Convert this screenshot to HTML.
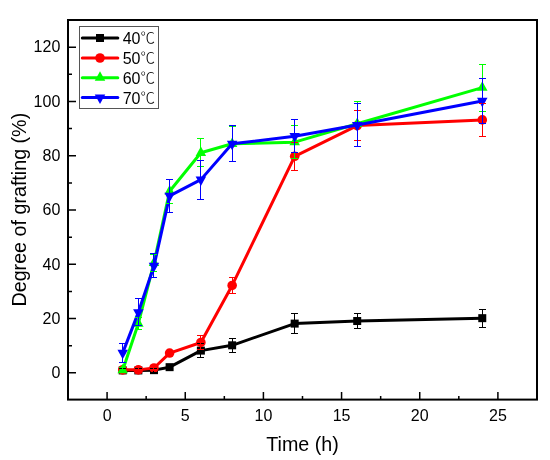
<!DOCTYPE html>
<html><head><meta charset="utf-8"><style>
html,body{margin:0;padding:0;background:#fff;}
svg{display:block;}
text{font-family:"Liberation Sans",Arial,sans-serif;fill:#000;}
.tk{font-size:16px;}
.lg{font-size:16px;}
.deg{font-family:"Liberation Sans","Noto Sans CJK SC",sans-serif;font-weight:300;font-size:14.5px;}
.ti{font-size:19.7px;}
</style></head><body>
<svg width="550" height="460" viewBox="0 0 550 460">
<rect width="550" height="460" fill="#fff"/>
<path d="M107.08,400V392M185.25,400V392M263.41,400V392M341.57,400V392M419.74,400V392M497.90,400V392M146.16,400V396M224.33,400V396M302.49,400V396M380.66,400V396M458.82,400V396M68,372.86H76M68,318.58H76M68,264.30H76M68,210.02H76M68,155.74H76M68,101.46H76M68,47.18H76M68,345.72H72M68,291.44H72M68,237.16H72M68,182.88H72M68,128.60H72M68,74.32H72" stroke="#000" stroke-width="1.5" fill="none"/>
<polyline points="122.71,370.42 138.35,370.42 153.98,370.15 169.61,367.16 200.88,350.61 232.14,345.31 294.68,323.60 357.21,321.02 482.27,318.17" fill="none" stroke="#000000" stroke-width="3.0" stroke-linejoin="round" stroke-linecap="round"/>
<rect x="118.71" y="366.42" width="8.0" height="8.0" fill="#000000"/>
<rect x="134.35" y="366.42" width="8.0" height="8.0" fill="#000000"/>
<rect x="149.98" y="366.15" width="8.0" height="8.0" fill="#000000"/>
<rect x="165.61" y="363.16" width="8.0" height="8.0" fill="#000000"/>
<rect x="196.88" y="346.61" width="8.0" height="8.0" fill="#000000"/>
<rect x="228.14" y="341.31" width="8.0" height="8.0" fill="#000000"/>
<rect x="290.68" y="319.60" width="8.0" height="8.0" fill="#000000"/>
<rect x="353.21" y="317.02" width="8.0" height="8.0" fill="#000000"/>
<rect x="478.27" y="314.17" width="8.0" height="8.0" fill="#000000"/>
<polyline points="122.71,369.87 138.35,369.87 153.98,367.97 169.61,353.05 200.88,342.46 232.14,285.47 294.68,156.28 357.21,125.61 482.27,119.92" fill="none" stroke="#ff0000" stroke-width="3.0" stroke-linejoin="round" stroke-linecap="round"/>
<circle cx="122.71" cy="369.87" r="4.8" fill="#ff0000"/>
<circle cx="138.35" cy="369.87" r="4.8" fill="#ff0000"/>
<circle cx="153.98" cy="367.97" r="4.8" fill="#ff0000"/>
<circle cx="169.61" cy="353.05" r="4.8" fill="#ff0000"/>
<circle cx="200.88" cy="342.46" r="4.8" fill="#ff0000"/>
<circle cx="232.14" cy="285.47" r="4.8" fill="#ff0000"/>
<circle cx="294.68" cy="156.28" r="4.8" fill="#ff0000"/>
<circle cx="357.21" cy="125.61" r="4.8" fill="#ff0000"/>
<circle cx="482.27" cy="119.92" r="4.8" fill="#ff0000"/>
<polyline points="122.71,370.15 138.35,323.47 153.98,262.94 169.61,191.29 200.88,152.75 232.14,143.80 294.68,142.17 357.21,123.71 482.27,87.62" fill="none" stroke="#00ff00" stroke-width="3.0" stroke-linejoin="round" stroke-linecap="round"/>
<path d="M122.71,363.81L127.96,373.31L117.46,373.31Z" fill="#00ff00"/>
<path d="M138.35,317.13L143.60,326.63L133.10,326.63Z" fill="#00ff00"/>
<path d="M153.98,256.61L159.23,266.11L148.73,266.11Z" fill="#00ff00"/>
<path d="M169.61,184.96L174.86,194.46L164.36,194.46Z" fill="#00ff00"/>
<path d="M200.88,146.42L206.13,155.92L195.63,155.92Z" fill="#00ff00"/>
<path d="M232.14,137.47L237.39,146.97L226.89,146.97Z" fill="#00ff00"/>
<path d="M294.68,135.84L299.93,145.34L289.43,145.34Z" fill="#00ff00"/>
<path d="M357.21,117.38L362.46,126.88L351.96,126.88Z" fill="#00ff00"/>
<path d="M482.27,81.29L487.52,90.79L477.02,90.79Z" fill="#00ff00"/>
<polyline points="122.71,352.91 138.35,312.34 153.98,265.93 169.61,195.91 200.88,179.62 232.14,143.80 294.68,136.20 357.21,125.07 482.27,100.92" fill="none" stroke="#0000ff" stroke-width="3.0" stroke-linejoin="round" stroke-linecap="round"/>
<path d="M122.71,359.25L127.96,349.75L117.46,349.75Z" fill="#0000ff"/>
<path d="M138.35,318.67L143.60,309.17L133.10,309.17Z" fill="#0000ff"/>
<path d="M153.98,272.26L159.23,262.76L148.73,262.76Z" fill="#0000ff"/>
<path d="M169.61,202.24L174.86,192.74L164.36,192.74Z" fill="#0000ff"/>
<path d="M200.88,185.96L206.13,176.46L195.63,176.46Z" fill="#0000ff"/>
<path d="M232.14,150.13L237.39,140.63L226.89,140.63Z" fill="#0000ff"/>
<path d="M294.68,142.53L299.93,133.03L289.43,133.03Z" fill="#0000ff"/>
<path d="M357.21,131.41L362.46,121.91L351.96,121.91Z" fill="#0000ff"/>
<path d="M482.27,107.25L487.52,97.75L477.02,97.75Z" fill="#0000ff"/>
<path d="M122.50,368.50V372.50M119.00,368.50h7.0M119.00,372.50h7.0M138.50,368.50V372.50M135.00,368.50h7.0M135.00,372.50h7.0M153.50,368.50V372.50M150.00,368.50h7.0M150.00,372.50h7.0M169.50,365.50V368.50M166.00,365.50h7.0M166.00,368.50h7.0M200.50,343.50V357.50M197.00,343.50h7.0M197.00,357.50h7.0M232.50,338.50V352.50M229.00,338.50h7.0M229.00,352.50h7.0M294.50,313.50V333.50M291.00,313.50h7.0M291.00,333.50h7.0M357.50,313.50V328.50M354.00,313.50h7.0M354.00,328.50h7.0M482.50,309.50V327.50M479.00,309.50h7.0M479.00,327.50h7.0" stroke="#000000" stroke-width="1" fill="none"/>
<path d="M122.50,367.50V372.50M119.00,367.50h7.0M119.00,372.50h7.0M138.50,367.50V372.50M135.00,367.50h7.0M135.00,372.50h7.0M153.50,365.50V370.50M150.00,365.50h7.0M150.00,370.50h7.0M169.50,350.50V355.50M166.00,350.50h7.0M166.00,355.50h7.0M200.50,335.50V349.50M197.00,335.50h7.0M197.00,349.50h7.0M232.50,277.50V293.50M229.00,277.50h7.0M229.00,293.50h7.0M294.50,142.50V170.50M291.00,142.50h7.0M291.00,170.50h7.0M357.50,110.50V140.50M354.00,110.50h7.0M354.00,140.50h7.0M482.50,103.50V136.50M479.00,103.50h7.0M479.00,136.50h7.0" stroke="#ff0000" stroke-width="1" fill="none"/>
<path d="M122.50,367.50V372.50M119.00,367.50h7.0M119.00,372.50h7.0M138.50,317.50V329.50M135.00,317.50h7.0M135.00,329.50h7.0M153.50,254.50V271.50M150.00,254.50h7.0M150.00,271.50h7.0M169.50,179.50V203.50M166.00,179.50h7.0M166.00,203.50h7.0M200.50,138.50V166.50M197.00,138.50h7.0M197.00,166.50h7.0M232.50,126.50V161.50M229.00,126.50h7.0M229.00,161.50h7.0M294.50,125.50V158.50M291.00,125.50h7.0M291.00,158.50h7.0M357.50,101.50V146.50M354.00,101.50h7.0M354.00,146.50h7.0M482.50,64.50V111.50M479.00,64.50h7.0M479.00,111.50h7.0" stroke="#00ff00" stroke-width="1" fill="none"/>
<path d="M122.50,343.50V362.50M119.00,343.50h7.0M119.00,362.50h7.0M138.50,298.50V325.50M135.00,298.50h7.0M135.00,325.50h7.0M153.50,253.50V277.50M150.00,253.50h7.0M150.00,277.50h7.0M169.50,179.50V212.50M166.00,179.50h7.0M166.00,212.50h7.0M200.50,160.50V199.50M197.00,160.50h7.0M197.00,199.50h7.0M232.50,125.50V161.50M229.00,125.50h7.0M229.00,161.50h7.0M294.50,119.50V152.50M291.00,119.50h7.0M291.00,152.50h7.0M357.50,103.50V146.50M354.00,103.50h7.0M354.00,146.50h7.0M482.50,78.50V123.50M479.00,78.50h7.0M479.00,123.50h7.0" stroke="#0000ff" stroke-width="1" fill="none"/>
<rect x="68" y="20" width="469" height="379.6" fill="none" stroke="#000" stroke-width="2"/>
<rect x="79.5" y="26.5" width="79" height="82" fill="#fff" stroke="#555" stroke-width="1"/>
<line x1="82.3" y1="38" x2="117.8" y2="38" stroke="#000000" stroke-width="3.0" stroke-linecap="round"/>
<rect x="96.00" y="34.00" width="8.0" height="8.0" fill="#000000"/>
<text x="122.7" y="44.1" class="lg">40</text>
<text x="140.6" y="43.2" class="deg">℃</text>
<line x1="82.3" y1="58" x2="117.8" y2="58" stroke="#ff0000" stroke-width="3.0" stroke-linecap="round"/>
<circle cx="100.00" cy="58.00" r="4.8" fill="#ff0000"/>
<text x="122.7" y="64.1" class="lg">50</text>
<text x="140.6" y="63.2" class="deg">℃</text>
<line x1="82.3" y1="77.7" x2="117.8" y2="77.7" stroke="#00ff00" stroke-width="3.0" stroke-linecap="round"/>
<path d="M100.00,71.37L105.25,80.87L94.75,80.87Z" fill="#00ff00"/>
<text x="122.7" y="83.8" class="lg">60</text>
<text x="140.6" y="82.9" class="deg">℃</text>
<line x1="82.3" y1="97.6" x2="117.8" y2="97.6" stroke="#0000ff" stroke-width="3.0" stroke-linecap="round"/>
<path d="M100.00,103.93L105.25,94.43L94.75,94.43Z" fill="#0000ff"/>
<text x="122.7" y="103.7" class="lg">70</text>
<text x="140.6" y="102.8" class="deg">℃</text>
<text x="107.08" y="420.8" class="tk" text-anchor="middle">0</text>
<text x="185.25" y="420.8" class="tk" text-anchor="middle">5</text>
<text x="263.41" y="420.8" class="tk" text-anchor="middle">10</text>
<text x="341.57" y="420.8" class="tk" text-anchor="middle">15</text>
<text x="419.74" y="420.8" class="tk" text-anchor="middle">20</text>
<text x="497.90" y="420.8" class="tk" text-anchor="middle">25</text>
<text x="60.3" y="378.06" class="tk" text-anchor="end">0</text>
<text x="60.3" y="323.78" class="tk" text-anchor="end">20</text>
<text x="60.3" y="269.50" class="tk" text-anchor="end">40</text>
<text x="60.3" y="215.22" class="tk" text-anchor="end">60</text>
<text x="60.3" y="160.94" class="tk" text-anchor="end">80</text>
<text x="60.3" y="106.66" class="tk" text-anchor="end">100</text>
<text x="60.3" y="52.38" class="tk" text-anchor="end">120</text>
<text x="266.3" y="450.5" class="ti">Time (h)</text>
<text transform="translate(26.0,306.5) rotate(-90)" class="ti">Degree of grafting (%)</text>
</svg>
</body></html>
